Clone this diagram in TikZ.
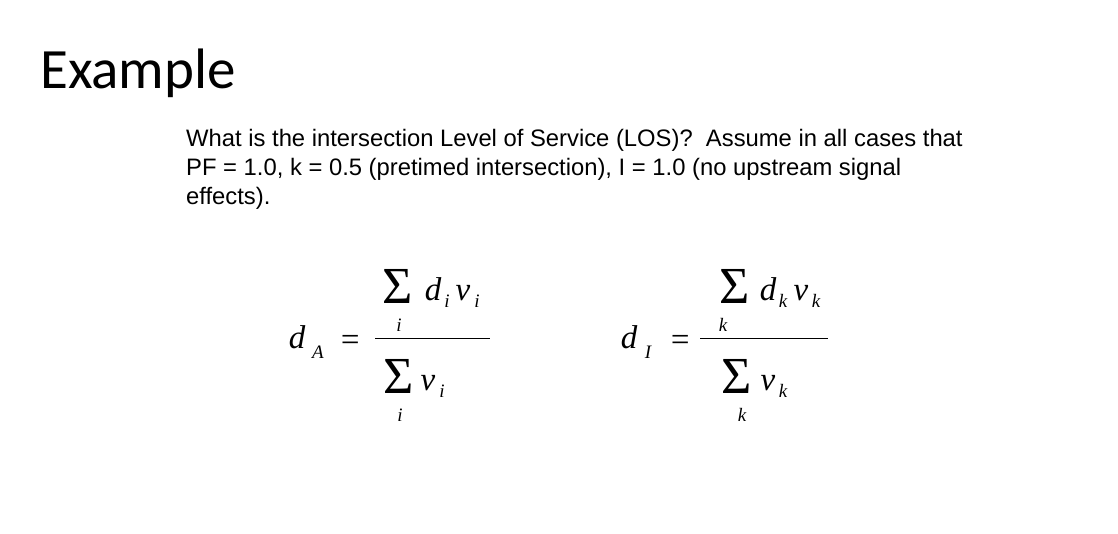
\documentclass[tikz,border=0pt]{standalone}
\usepackage{fontspec}
\setmainfont{Liberation Sans}
\newfontfamily\titlefont{Carlito}
\newfontfamily\eqfont{Liberation Serif}
\begin{document}
\begin{tikzpicture}[x=1pt,y=1pt,
  ev/.style={inner sep=0pt,font=\eqfont\itshape\fontsize{33}{33}\selectfont},
  sb/.style={inner sep=0pt,font=\eqfont\itshape\fontsize{19}{19}\selectfont},
  sg/.style={inner sep=0pt,font=\eqfont\fontsize{52}{52}\selectfont},
  fl/.style={line width=0.8pt}]
\useasboundingbox (0,0) rectangle (1118,-533);
\node[anchor=base west,inner sep=0pt,font=\titlefont\fontsize{57}{57}\selectfont] (title) at (40,-88) {Example};
\node[anchor=north west,inner sep=0pt,align=left,font=\fontsize{23.8}{29}\selectfont] (q) at (186,-129)
 {What is the intersection Level of Service (LOS)?\ \ Assume in all cases that\\
  PF = 1.0, k = 0.5 (pretimed intersection), I = 1.0 (no upstream signal\\
  effects).};
% left equation
\node[ev,anchor=base] (dA) at (297,-348) {d};
\node[sb,anchor=base] (A) at (318,-358) {A};
\node[ev,anchor=base] (eqA) at (350,-350) {=};
\draw[fl] (375,-338) coordinate (la) -- (490,-338) coordinate (lb);
\node[sg,anchor=base] (s1) at (398,-303) {Σ};
\node[ev,anchor=base] (n1) at (433,-300) {d};
\node[sb,anchor=base] (n1s) at (447,-307) {i};
\node[ev,anchor=base] (n2) at (463,-300) {v};
\node[sb,anchor=base] (n2s) at (477,-307) {i};
\node[sb,anchor=base] (s1i) at (399,-331) {i};
\node[sg,anchor=base] (s2) at (399,-393) {Σ};
\node[ev,anchor=base] (d1) at (428,-390) {v};
\node[sb,anchor=base] (d1s) at (442,-397) {i};
\node[sb,anchor=base] (s2i) at (400,-421) {i};
% right equation
\node[ev,anchor=base] (dI) at (629,-348) {d};
\node[sb,anchor=base] (I) at (648,-358) {I};
\node[ev,anchor=base] (eqI) at (680,-350) {=};
\draw[fl] (700,-338) coordinate (ra) -- (828,-338) coordinate (rb);
\node[sg,anchor=base] (s3) at (735,-303) {Σ};
\node[ev,anchor=base] (m1) at (768,-300) {d};
\node[sb,anchor=base] (m1s) at (783,-307) {k};
\node[ev,anchor=base] (m2) at (801,-300) {v};
\node[sb,anchor=base] (m2s) at (816,-307) {k};
\node[sb,anchor=base] (s3k) at (723,-331) {k};
\node[sg,anchor=base] (s4) at (737,-393) {Σ};
\node[ev,anchor=base] (e1) at (768,-390) {v};
\node[sb,anchor=base] (e1s) at (783,-397) {k};
\node[sb,anchor=base] (s4k) at (742,-421) {k};
\end{tikzpicture}
\end{document}
